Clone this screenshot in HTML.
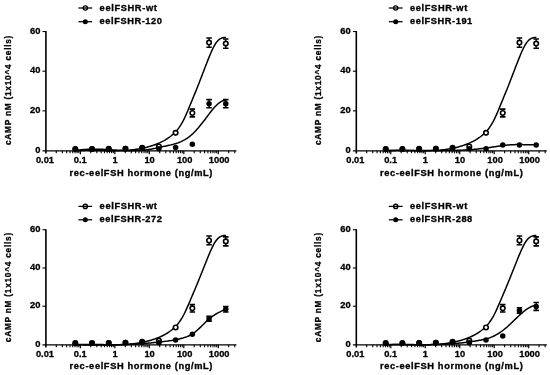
<!DOCTYPE html>
<html><head><meta charset="utf-8"><title>cAMP dose response</title>
<style>html,body{margin:0;padding:0;background:#fff}svg{display:block;filter:blur(0.3px)}text{font-family:"Liberation Sans",sans-serif;font-weight:bold;fill:#000;stroke:#000;stroke-width:.3px;stroke-linejoin:round}</style>
</head><body>
<svg width="550" height="375" viewBox="0 0 550 375">
<rect width="550" height="375" fill="#fff"/>
<line x1="45.90" y1="31.02" x2="45.90" y2="153.50" stroke="#000" stroke-width="1.6"/>
<line x1="42.50" y1="150.80" x2="236.40" y2="150.80" stroke="#000" stroke-width="1.2"/>
<line x1="42.50" y1="31.52" x2="45.90" y2="31.52" stroke="#000" stroke-width="1.1"/>
<text x="40.40" y="33.52" font-size="9.4" text-anchor="end">60</text>
<line x1="42.50" y1="71.18" x2="45.90" y2="71.18" stroke="#000" stroke-width="1.1"/>
<text x="40.40" y="73.18" font-size="9.4" text-anchor="end">40</text>
<line x1="42.50" y1="110.84" x2="45.90" y2="110.84" stroke="#000" stroke-width="1.1"/>
<text x="40.40" y="112.84" font-size="9.4" text-anchor="end">20</text>
<text x="40.40" y="152.50" font-size="9.4" text-anchor="end">0</text>
<text x="45.00" y="163.30" font-size="9.3" text-anchor="middle">0.01</text>
<line x1="80.38" y1="150.80" x2="80.38" y2="154.20" stroke="#000" stroke-width="1.2"/>
<text x="80.28" y="163.30" font-size="9.3" text-anchor="middle">0.1</text>
<line x1="114.86" y1="150.80" x2="114.86" y2="154.20" stroke="#000" stroke-width="1.2"/>
<text x="115.06" y="163.30" font-size="9.3" text-anchor="middle">1</text>
<line x1="149.34" y1="150.80" x2="149.34" y2="154.20" stroke="#000" stroke-width="1.2"/>
<text x="149.64" y="163.30" font-size="9.3" text-anchor="middle">10</text>
<line x1="183.82" y1="150.80" x2="183.82" y2="154.20" stroke="#000" stroke-width="1.2"/>
<text x="184.72" y="163.30" font-size="9.3" text-anchor="middle">100</text>
<line x1="218.30" y1="150.80" x2="218.30" y2="154.20" stroke="#000" stroke-width="1.2"/>
<text x="219.20" y="163.30" font-size="9.3" text-anchor="middle">1000</text>
<line x1="56.28" y1="150.80" x2="56.28" y2="153.20" stroke="#000" stroke-width="1.1"/>
<line x1="62.35" y1="150.80" x2="62.35" y2="153.20" stroke="#000" stroke-width="1.1"/>
<line x1="66.66" y1="150.80" x2="66.66" y2="153.20" stroke="#000" stroke-width="1.1"/>
<line x1="70.00" y1="150.80" x2="70.00" y2="153.20" stroke="#000" stroke-width="1.1"/>
<line x1="72.73" y1="150.80" x2="72.73" y2="153.20" stroke="#000" stroke-width="1.1"/>
<line x1="75.04" y1="150.80" x2="75.04" y2="153.20" stroke="#000" stroke-width="1.1"/>
<line x1="77.04" y1="150.80" x2="77.04" y2="153.20" stroke="#000" stroke-width="1.1"/>
<line x1="78.80" y1="150.80" x2="78.80" y2="153.20" stroke="#000" stroke-width="1.1"/>
<line x1="90.76" y1="150.80" x2="90.76" y2="153.20" stroke="#000" stroke-width="1.1"/>
<line x1="96.83" y1="150.80" x2="96.83" y2="153.20" stroke="#000" stroke-width="1.1"/>
<line x1="101.14" y1="150.80" x2="101.14" y2="153.20" stroke="#000" stroke-width="1.1"/>
<line x1="104.48" y1="150.80" x2="104.48" y2="153.20" stroke="#000" stroke-width="1.1"/>
<line x1="107.21" y1="150.80" x2="107.21" y2="153.20" stroke="#000" stroke-width="1.1"/>
<line x1="109.52" y1="150.80" x2="109.52" y2="153.20" stroke="#000" stroke-width="1.1"/>
<line x1="111.52" y1="150.80" x2="111.52" y2="153.20" stroke="#000" stroke-width="1.1"/>
<line x1="113.28" y1="150.80" x2="113.28" y2="153.20" stroke="#000" stroke-width="1.1"/>
<line x1="125.24" y1="150.80" x2="125.24" y2="153.20" stroke="#000" stroke-width="1.1"/>
<line x1="131.31" y1="150.80" x2="131.31" y2="153.20" stroke="#000" stroke-width="1.1"/>
<line x1="135.62" y1="150.80" x2="135.62" y2="153.20" stroke="#000" stroke-width="1.1"/>
<line x1="138.96" y1="150.80" x2="138.96" y2="153.20" stroke="#000" stroke-width="1.1"/>
<line x1="141.69" y1="150.80" x2="141.69" y2="153.20" stroke="#000" stroke-width="1.1"/>
<line x1="144.00" y1="150.80" x2="144.00" y2="153.20" stroke="#000" stroke-width="1.1"/>
<line x1="146.00" y1="150.80" x2="146.00" y2="153.20" stroke="#000" stroke-width="1.1"/>
<line x1="147.76" y1="150.80" x2="147.76" y2="153.20" stroke="#000" stroke-width="1.1"/>
<line x1="159.72" y1="150.80" x2="159.72" y2="153.20" stroke="#000" stroke-width="1.1"/>
<line x1="165.79" y1="150.80" x2="165.79" y2="153.20" stroke="#000" stroke-width="1.1"/>
<line x1="170.10" y1="150.80" x2="170.10" y2="153.20" stroke="#000" stroke-width="1.1"/>
<line x1="173.44" y1="150.80" x2="173.44" y2="153.20" stroke="#000" stroke-width="1.1"/>
<line x1="176.17" y1="150.80" x2="176.17" y2="153.20" stroke="#000" stroke-width="1.1"/>
<line x1="178.48" y1="150.80" x2="178.48" y2="153.20" stroke="#000" stroke-width="1.1"/>
<line x1="180.48" y1="150.80" x2="180.48" y2="153.20" stroke="#000" stroke-width="1.1"/>
<line x1="182.24" y1="150.80" x2="182.24" y2="153.20" stroke="#000" stroke-width="1.1"/>
<line x1="194.20" y1="150.80" x2="194.20" y2="153.20" stroke="#000" stroke-width="1.1"/>
<line x1="200.27" y1="150.80" x2="200.27" y2="153.20" stroke="#000" stroke-width="1.1"/>
<line x1="204.58" y1="150.80" x2="204.58" y2="153.20" stroke="#000" stroke-width="1.1"/>
<line x1="207.92" y1="150.80" x2="207.92" y2="153.20" stroke="#000" stroke-width="1.1"/>
<line x1="210.65" y1="150.80" x2="210.65" y2="153.20" stroke="#000" stroke-width="1.1"/>
<line x1="212.96" y1="150.80" x2="212.96" y2="153.20" stroke="#000" stroke-width="1.1"/>
<line x1="214.96" y1="150.80" x2="214.96" y2="153.20" stroke="#000" stroke-width="1.1"/>
<line x1="216.72" y1="150.80" x2="216.72" y2="153.20" stroke="#000" stroke-width="1.1"/>
<line x1="228.68" y1="150.80" x2="228.68" y2="153.20" stroke="#000" stroke-width="1.1"/>
<line x1="234.75" y1="150.80" x2="234.75" y2="153.20" stroke="#000" stroke-width="1.1"/>
<text transform="translate(69.60,176.00) scale(1.12,1)" font-size="8.3" textLength="127.50" lengthAdjust="spacing">rec-eelFSH hormone (ng/mL)</text>
<text transform="translate(10.70,90.30) rotate(-90)" font-size="8.3" text-anchor="middle" textLength="109.4" lengthAdjust="spacing">cAMP nM (1x10^4 cells)</text>
<circle cx="85.30" cy="8.00" r="2.1" fill="#fff" stroke="#000" stroke-width="1.4"/>
<line x1="78.40" y1="8.00" x2="92.20" y2="8.00" stroke="#000" stroke-width="1.25"/>
<text transform="translate(99.60,10.60) scale(1.12,1)" font-size="8.3" textLength="51.16" lengthAdjust="spacing">eelFSHR-wt</text>
<line x1="78.40" y1="21.70" x2="92.20" y2="21.70" stroke="#000" stroke-width="1.25"/>
<circle cx="85.30" cy="21.70" r="2.5" fill="#000"/>
<text transform="translate(99.60,24.30) scale(1.12,1)" font-size="8.3" textLength="55.62" lengthAdjust="spacing">eelFSHR-120</text>
<path d="M75.00 150.71 L76.00 150.65 L77.00 150.60 L78.00 150.55 L79.00 150.51 L80.00 150.48 L81.00 150.45 L82.00 150.43 L83.00 150.41 L84.00 150.39 L85.00 150.38 L86.00 150.37 L87.00 150.37 L88.00 150.37 L89.00 150.38 L90.00 150.38 L91.00 150.39 L92.00 150.40 L93.00 150.42 L94.00 150.43 L95.00 150.45 L96.00 150.47 L97.00 150.49 L98.00 150.51 L99.00 150.53 L100.00 150.55 L101.00 150.57 L102.00 150.60 L103.00 150.62 L104.00 150.64 L105.00 150.66 L106.00 150.67 L107.00 150.69 L108.00 150.70 L109.00 150.72 L110.00 150.73 L111.00 150.74 L112.00 150.74 L113.00 150.74 L114.00 150.74 L115.00 150.74 L116.00 150.73 L117.00 150.72 L118.00 150.70 L119.00 150.68 L120.00 150.65 L121.00 150.62 L122.00 150.58 L123.00 150.54 L124.00 150.49 L125.00 150.44 L126.00 150.38 L127.00 150.31 L128.00 150.24 L129.00 150.16 L130.00 150.07 L131.00 149.97 L132.00 149.87 L133.00 149.75 L134.00 149.63 L135.00 149.50 L136.00 149.36 L137.00 149.22 L138.00 149.06 L139.00 148.89 L140.00 148.71 L141.00 148.53 L142.00 148.33 L143.00 148.12 L144.00 147.90 L145.00 147.67 L146.00 147.43 L147.00 147.17 L148.00 146.91 L149.00 146.63 L150.00 146.34 L151.00 146.03 L152.00 145.71 L153.00 145.38 L154.00 145.04 L155.00 144.68 L156.00 144.31 L157.00 143.92 L158.00 143.52 L159.00 143.09 L160.00 142.65 L161.00 142.18 L162.00 141.69 L163.00 141.18 L164.00 140.64 L165.00 140.07 L166.00 139.47 L167.00 138.84 L168.00 138.18 L169.00 137.49 L170.00 136.76 L171.00 135.99 L172.00 135.18 L173.00 134.31 L174.00 133.39 L175.00 132.40 L176.00 131.33 L177.00 130.18 L178.00 128.93 L179.00 127.59 L180.00 126.14 L181.00 124.58 L182.00 122.89 L183.00 121.08 L184.00 119.13 L185.00 117.05 L186.00 114.85 L187.00 112.56 L188.00 110.20 L189.00 107.79 L190.00 105.34 L191.00 102.88 L192.00 100.43 L193.00 97.99 L194.00 95.57 L195.00 93.14 L196.00 90.69 L197.00 88.21 L198.00 85.70 L199.00 83.15 L200.00 80.57 L201.00 77.98 L202.00 75.38 L203.00 72.77 L204.00 70.16 L205.00 67.56 L206.00 64.97 L207.00 62.41 L208.00 59.87 L209.00 57.37 L210.00 54.93 L211.00 52.57 L212.00 50.32 L213.00 48.21 L214.00 46.26 L215.00 44.49 L216.00 42.94 L217.00 41.61 L218.00 40.51 L219.00 39.61 L220.00 38.91 L221.00 38.37 L222.00 37.99 L223.00 37.73 L224.00 37.56 L225.00 37.47 L226.00 37.42" fill="none" stroke="#000" stroke-width="1.5"/>
<path d="M75.00 150.70 L76.00 150.52 L77.00 150.36 L78.00 150.21 L79.00 150.07 L80.00 149.94 L81.00 149.82 L82.00 149.71 L83.00 149.62 L84.00 149.53 L85.00 149.46 L86.00 149.39 L87.00 149.33 L88.00 149.28 L89.00 149.24 L90.00 149.21 L91.00 149.18 L92.00 149.17 L93.00 149.15 L94.00 149.15 L95.00 149.15 L96.00 149.16 L97.00 149.18 L98.00 149.20 L99.00 149.22 L100.00 149.25 L101.00 149.28 L102.00 149.32 L103.00 149.36 L104.00 149.41 L105.00 149.46 L106.00 149.51 L107.00 149.56 L108.00 149.62 L109.00 149.67 L110.00 149.73 L111.00 149.79 L112.00 149.85 L113.00 149.91 L114.00 149.97 L115.00 150.03 L116.00 150.09 L117.00 150.15 L118.00 150.20 L119.00 150.26 L120.00 150.31 L121.00 150.36 L122.00 150.41 L123.00 150.46 L124.00 150.50 L125.00 150.54 L126.00 150.57 L127.00 150.60 L128.00 150.63 L129.00 150.65 L130.00 150.67 L131.00 150.67 L132.00 150.68 L133.00 150.68 L134.00 150.67 L135.00 150.65 L136.00 150.63 L137.00 150.59 L138.00 150.55 L139.00 150.51 L140.00 150.45 L141.00 150.38 L142.00 150.31 L143.00 150.22 L144.00 150.13 L145.00 150.03 L146.00 149.91 L147.00 149.78 L148.00 149.64 L149.00 149.49 L150.00 149.33 L151.00 149.16 L152.00 148.97 L153.00 148.78 L154.00 148.58 L155.00 148.37 L156.00 148.15 L157.00 147.93 L158.00 147.71 L159.00 147.49 L160.00 147.26 L161.00 147.04 L162.00 146.82 L163.00 146.60 L164.00 146.39 L165.00 146.18 L166.00 145.98 L167.00 145.77 L168.00 145.56 L169.00 145.34 L170.00 145.12 L171.00 144.89 L172.00 144.65 L173.00 144.39 L174.00 144.12 L175.00 143.83 L176.00 143.53 L177.00 143.20 L178.00 142.85 L179.00 142.47 L180.00 142.07 L181.00 141.64 L182.00 141.17 L183.00 140.68 L184.00 140.14 L185.00 139.57 L186.00 138.96 L187.00 138.31 L188.00 137.62 L189.00 136.88 L190.00 136.09 L191.00 135.25 L192.00 134.37 L193.00 133.44 L194.00 132.46 L195.00 131.45 L196.00 130.39 L197.00 129.30 L198.00 128.17 L199.00 127.01 L200.00 125.81 L201.00 124.59 L202.00 123.34 L203.00 122.06 L204.00 120.76 L205.00 119.44 L206.00 118.10 L207.00 116.76 L208.00 115.42 L209.00 114.09 L210.00 112.78 L211.00 111.49 L212.00 110.23 L213.00 109.01 L214.00 107.84 L215.00 106.73 L216.00 105.68 L217.00 104.70 L218.00 103.80 L219.00 102.99 L220.00 102.27 L221.00 101.66 L222.00 101.17 L223.00 100.80 L224.00 100.56 L225.00 100.46 L226.00 100.50" fill="none" stroke="#000" stroke-width="1.5"/>
<circle cx="75.30" cy="149.01" r="2.25" fill="#fff" stroke="#000" stroke-width="1.6"/>
<circle cx="92.02" cy="149.01" r="2.25" fill="#fff" stroke="#000" stroke-width="1.6"/>
<circle cx="108.74" cy="148.91" r="2.25" fill="#fff" stroke="#000" stroke-width="1.6"/>
<circle cx="125.46" cy="148.72" r="2.25" fill="#fff" stroke="#000" stroke-width="1.6"/>
<circle cx="142.18" cy="147.72" r="2.25" fill="#fff" stroke="#000" stroke-width="1.6"/>
<circle cx="158.90" cy="146.53" r="2.25" fill="#fff" stroke="#000" stroke-width="1.6"/>
<circle cx="175.62" cy="132.85" r="2.25" fill="#fff" stroke="#000" stroke-width="1.6"/>
<path d="M192.34 109.16V116.88" stroke="#000" stroke-width="1.3" fill="none"/>
<path d="M189.59 109.16H195.09M189.59 116.88H195.09" stroke="#000" stroke-width="1.6" fill="none"/>
<circle cx="192.34" cy="113.02" r="2.25" fill="#fff" stroke="#000" stroke-width="1.6"/>
<path d="M209.06 38.07V47.18" stroke="#000" stroke-width="1.3" fill="none"/>
<path d="M206.31 38.07H211.81M206.31 47.18H211.81" stroke="#000" stroke-width="1.6" fill="none"/>
<circle cx="209.06" cy="42.62" r="2.25" fill="#fff" stroke="#000" stroke-width="1.6"/>
<path d="M225.78 38.96V48.27" stroke="#000" stroke-width="1.3" fill="none"/>
<path d="M223.03 38.96H228.53M223.03 48.27H228.53" stroke="#000" stroke-width="1.6" fill="none"/>
<circle cx="225.78" cy="43.62" r="2.25" fill="#fff" stroke="#000" stroke-width="1.6"/>
<circle cx="75.30" cy="149.11" r="2.75" fill="#000"/>
<circle cx="92.02" cy="149.11" r="2.75" fill="#000"/>
<circle cx="108.74" cy="148.72" r="2.75" fill="#000"/>
<circle cx="125.46" cy="148.52" r="2.75" fill="#000"/>
<circle cx="142.18" cy="147.92" r="2.75" fill="#000"/>
<circle cx="158.90" cy="148.72" r="2.75" fill="#000"/>
<circle cx="175.62" cy="147.53" r="2.75" fill="#000"/>
<circle cx="192.34" cy="144.35" r="2.75" fill="#000"/>
<path d="M209.06 99.60V107.80" stroke="#000" stroke-width="1.3" fill="none"/>
<path d="M206.31 99.60H211.81M206.31 107.80H211.81" stroke="#000" stroke-width="1.6" fill="none"/>
<circle cx="209.06" cy="103.70" r="2.75" fill="#000"/>
<path d="M225.78 99.60V107.80" stroke="#000" stroke-width="1.3" fill="none"/>
<path d="M223.03 99.60H228.53M223.03 107.80H228.53" stroke="#000" stroke-width="1.6" fill="none"/>
<circle cx="225.78" cy="103.70" r="2.75" fill="#000"/>
<line x1="356.30" y1="31.02" x2="356.30" y2="153.50" stroke="#000" stroke-width="1.6"/>
<line x1="352.90" y1="150.80" x2="546.80" y2="150.80" stroke="#000" stroke-width="1.2"/>
<line x1="352.90" y1="31.52" x2="356.30" y2="31.52" stroke="#000" stroke-width="1.1"/>
<text x="350.80" y="33.52" font-size="9.4" text-anchor="end">60</text>
<line x1="352.90" y1="71.18" x2="356.30" y2="71.18" stroke="#000" stroke-width="1.1"/>
<text x="350.80" y="73.18" font-size="9.4" text-anchor="end">40</text>
<line x1="352.90" y1="110.84" x2="356.30" y2="110.84" stroke="#000" stroke-width="1.1"/>
<text x="350.80" y="112.84" font-size="9.4" text-anchor="end">20</text>
<text x="350.80" y="152.50" font-size="9.4" text-anchor="end">0</text>
<text x="355.40" y="163.30" font-size="9.3" text-anchor="middle">0.01</text>
<line x1="390.78" y1="150.80" x2="390.78" y2="154.20" stroke="#000" stroke-width="1.2"/>
<text x="390.68" y="163.30" font-size="9.3" text-anchor="middle">0.1</text>
<line x1="425.26" y1="150.80" x2="425.26" y2="154.20" stroke="#000" stroke-width="1.2"/>
<text x="425.46" y="163.30" font-size="9.3" text-anchor="middle">1</text>
<line x1="459.74" y1="150.80" x2="459.74" y2="154.20" stroke="#000" stroke-width="1.2"/>
<text x="460.04" y="163.30" font-size="9.3" text-anchor="middle">10</text>
<line x1="494.22" y1="150.80" x2="494.22" y2="154.20" stroke="#000" stroke-width="1.2"/>
<text x="495.12" y="163.30" font-size="9.3" text-anchor="middle">100</text>
<line x1="528.70" y1="150.80" x2="528.70" y2="154.20" stroke="#000" stroke-width="1.2"/>
<text x="529.60" y="163.30" font-size="9.3" text-anchor="middle">1000</text>
<line x1="366.68" y1="150.80" x2="366.68" y2="153.20" stroke="#000" stroke-width="1.1"/>
<line x1="372.75" y1="150.80" x2="372.75" y2="153.20" stroke="#000" stroke-width="1.1"/>
<line x1="377.06" y1="150.80" x2="377.06" y2="153.20" stroke="#000" stroke-width="1.1"/>
<line x1="380.40" y1="150.80" x2="380.40" y2="153.20" stroke="#000" stroke-width="1.1"/>
<line x1="383.13" y1="150.80" x2="383.13" y2="153.20" stroke="#000" stroke-width="1.1"/>
<line x1="385.44" y1="150.80" x2="385.44" y2="153.20" stroke="#000" stroke-width="1.1"/>
<line x1="387.44" y1="150.80" x2="387.44" y2="153.20" stroke="#000" stroke-width="1.1"/>
<line x1="389.20" y1="150.80" x2="389.20" y2="153.20" stroke="#000" stroke-width="1.1"/>
<line x1="401.16" y1="150.80" x2="401.16" y2="153.20" stroke="#000" stroke-width="1.1"/>
<line x1="407.23" y1="150.80" x2="407.23" y2="153.20" stroke="#000" stroke-width="1.1"/>
<line x1="411.54" y1="150.80" x2="411.54" y2="153.20" stroke="#000" stroke-width="1.1"/>
<line x1="414.88" y1="150.80" x2="414.88" y2="153.20" stroke="#000" stroke-width="1.1"/>
<line x1="417.61" y1="150.80" x2="417.61" y2="153.20" stroke="#000" stroke-width="1.1"/>
<line x1="419.92" y1="150.80" x2="419.92" y2="153.20" stroke="#000" stroke-width="1.1"/>
<line x1="421.92" y1="150.80" x2="421.92" y2="153.20" stroke="#000" stroke-width="1.1"/>
<line x1="423.68" y1="150.80" x2="423.68" y2="153.20" stroke="#000" stroke-width="1.1"/>
<line x1="435.64" y1="150.80" x2="435.64" y2="153.20" stroke="#000" stroke-width="1.1"/>
<line x1="441.71" y1="150.80" x2="441.71" y2="153.20" stroke="#000" stroke-width="1.1"/>
<line x1="446.02" y1="150.80" x2="446.02" y2="153.20" stroke="#000" stroke-width="1.1"/>
<line x1="449.36" y1="150.80" x2="449.36" y2="153.20" stroke="#000" stroke-width="1.1"/>
<line x1="452.09" y1="150.80" x2="452.09" y2="153.20" stroke="#000" stroke-width="1.1"/>
<line x1="454.40" y1="150.80" x2="454.40" y2="153.20" stroke="#000" stroke-width="1.1"/>
<line x1="456.40" y1="150.80" x2="456.40" y2="153.20" stroke="#000" stroke-width="1.1"/>
<line x1="458.16" y1="150.80" x2="458.16" y2="153.20" stroke="#000" stroke-width="1.1"/>
<line x1="470.12" y1="150.80" x2="470.12" y2="153.20" stroke="#000" stroke-width="1.1"/>
<line x1="476.19" y1="150.80" x2="476.19" y2="153.20" stroke="#000" stroke-width="1.1"/>
<line x1="480.50" y1="150.80" x2="480.50" y2="153.20" stroke="#000" stroke-width="1.1"/>
<line x1="483.84" y1="150.80" x2="483.84" y2="153.20" stroke="#000" stroke-width="1.1"/>
<line x1="486.57" y1="150.80" x2="486.57" y2="153.20" stroke="#000" stroke-width="1.1"/>
<line x1="488.88" y1="150.80" x2="488.88" y2="153.20" stroke="#000" stroke-width="1.1"/>
<line x1="490.88" y1="150.80" x2="490.88" y2="153.20" stroke="#000" stroke-width="1.1"/>
<line x1="492.64" y1="150.80" x2="492.64" y2="153.20" stroke="#000" stroke-width="1.1"/>
<line x1="504.60" y1="150.80" x2="504.60" y2="153.20" stroke="#000" stroke-width="1.1"/>
<line x1="510.67" y1="150.80" x2="510.67" y2="153.20" stroke="#000" stroke-width="1.1"/>
<line x1="514.98" y1="150.80" x2="514.98" y2="153.20" stroke="#000" stroke-width="1.1"/>
<line x1="518.32" y1="150.80" x2="518.32" y2="153.20" stroke="#000" stroke-width="1.1"/>
<line x1="521.05" y1="150.80" x2="521.05" y2="153.20" stroke="#000" stroke-width="1.1"/>
<line x1="523.36" y1="150.80" x2="523.36" y2="153.20" stroke="#000" stroke-width="1.1"/>
<line x1="525.36" y1="150.80" x2="525.36" y2="153.20" stroke="#000" stroke-width="1.1"/>
<line x1="527.12" y1="150.80" x2="527.12" y2="153.20" stroke="#000" stroke-width="1.1"/>
<line x1="539.08" y1="150.80" x2="539.08" y2="153.20" stroke="#000" stroke-width="1.1"/>
<line x1="545.15" y1="150.80" x2="545.15" y2="153.20" stroke="#000" stroke-width="1.1"/>
<text transform="translate(380.00,176.00) scale(1.12,1)" font-size="8.3" textLength="127.50" lengthAdjust="spacing">rec-eelFSH hormone (ng/mL)</text>
<text transform="translate(320.60,90.30) rotate(-90)" font-size="8.3" text-anchor="middle" textLength="109.4" lengthAdjust="spacing">cAMP nM (1x10^4 cells)</text>
<circle cx="395.70" cy="8.00" r="2.1" fill="#fff" stroke="#000" stroke-width="1.4"/>
<line x1="388.80" y1="8.00" x2="402.60" y2="8.00" stroke="#000" stroke-width="1.25"/>
<text transform="translate(410.00,10.60) scale(1.12,1)" font-size="8.3" textLength="51.16" lengthAdjust="spacing">eelFSHR-wt</text>
<line x1="388.80" y1="21.70" x2="402.60" y2="21.70" stroke="#000" stroke-width="1.25"/>
<circle cx="395.70" cy="21.70" r="2.5" fill="#000"/>
<text transform="translate(410.00,24.30) scale(1.12,1)" font-size="8.3" textLength="55.62" lengthAdjust="spacing">eelFSHR-191</text>
<path d="M385.40 150.71 L386.40 150.65 L387.40 150.60 L388.40 150.55 L389.40 150.51 L390.40 150.48 L391.40 150.45 L392.40 150.43 L393.40 150.41 L394.40 150.39 L395.40 150.38 L396.40 150.37 L397.40 150.37 L398.40 150.37 L399.40 150.38 L400.40 150.38 L401.40 150.39 L402.40 150.40 L403.40 150.42 L404.40 150.43 L405.40 150.45 L406.40 150.47 L407.40 150.49 L408.40 150.51 L409.40 150.53 L410.40 150.55 L411.40 150.57 L412.40 150.60 L413.40 150.62 L414.40 150.64 L415.40 150.66 L416.40 150.67 L417.40 150.69 L418.40 150.70 L419.40 150.72 L420.40 150.73 L421.40 150.74 L422.40 150.74 L423.40 150.74 L424.40 150.74 L425.40 150.74 L426.40 150.73 L427.40 150.72 L428.40 150.70 L429.40 150.68 L430.40 150.65 L431.40 150.62 L432.40 150.58 L433.40 150.54 L434.40 150.49 L435.40 150.44 L436.40 150.38 L437.40 150.31 L438.40 150.24 L439.40 150.16 L440.40 150.07 L441.40 149.97 L442.40 149.87 L443.40 149.75 L444.40 149.63 L445.40 149.50 L446.40 149.36 L447.40 149.22 L448.40 149.06 L449.40 148.89 L450.40 148.71 L451.40 148.53 L452.40 148.33 L453.40 148.12 L454.40 147.90 L455.40 147.67 L456.40 147.43 L457.40 147.17 L458.40 146.91 L459.40 146.63 L460.40 146.34 L461.40 146.03 L462.40 145.71 L463.40 145.38 L464.40 145.04 L465.40 144.68 L466.40 144.31 L467.40 143.92 L468.40 143.52 L469.40 143.09 L470.40 142.65 L471.40 142.18 L472.40 141.69 L473.40 141.18 L474.40 140.64 L475.40 140.07 L476.40 139.47 L477.40 138.84 L478.40 138.18 L479.40 137.49 L480.40 136.76 L481.40 135.99 L482.40 135.18 L483.40 134.31 L484.40 133.39 L485.40 132.40 L486.40 131.33 L487.40 130.18 L488.40 128.93 L489.40 127.59 L490.40 126.14 L491.40 124.58 L492.40 122.89 L493.40 121.08 L494.40 119.13 L495.40 117.05 L496.40 114.85 L497.40 112.56 L498.40 110.20 L499.40 107.79 L500.40 105.34 L501.40 102.88 L502.40 100.43 L503.40 97.99 L504.40 95.57 L505.40 93.14 L506.40 90.69 L507.40 88.21 L508.40 85.70 L509.40 83.15 L510.40 80.57 L511.40 77.98 L512.40 75.38 L513.40 72.77 L514.40 70.16 L515.40 67.56 L516.40 64.97 L517.40 62.41 L518.40 59.87 L519.40 57.37 L520.40 54.93 L521.40 52.57 L522.40 50.32 L523.40 48.21 L524.40 46.26 L525.40 44.49 L526.40 42.94 L527.40 41.61 L528.40 40.51 L529.40 39.61 L530.40 38.91 L531.40 38.37 L532.40 37.99 L533.40 37.73 L534.40 37.56 L535.40 37.47 L536.40 37.42" fill="none" stroke="#000" stroke-width="1.5"/>
<path d="M385.40 150.70 L386.40 150.66 L387.40 150.63 L388.40 150.60 L389.40 150.57 L390.40 150.55 L391.40 150.52 L392.40 150.50 L393.40 150.48 L394.40 150.47 L395.40 150.45 L396.40 150.44 L397.40 150.43 L398.40 150.42 L399.40 150.41 L400.40 150.41 L401.40 150.40 L402.40 150.40 L403.40 150.40 L404.40 150.40 L405.40 150.40 L406.40 150.40 L407.40 150.40 L408.40 150.41 L409.40 150.41 L410.40 150.42 L411.40 150.42 L412.40 150.43 L413.40 150.44 L414.40 150.45 L415.40 150.45 L416.40 150.46 L417.40 150.47 L418.40 150.48 L419.40 150.49 L420.40 150.50 L421.40 150.51 L422.40 150.52 L423.40 150.53 L424.40 150.55 L425.40 150.56 L426.40 150.56 L427.40 150.57 L428.40 150.58 L429.40 150.59 L430.40 150.60 L431.40 150.61 L432.40 150.61 L433.40 150.62 L434.40 150.62 L435.40 150.63 L436.40 150.63 L437.40 150.63 L438.40 150.64 L439.40 150.64 L440.40 150.63 L441.40 150.63 L442.40 150.63 L443.40 150.62 L444.40 150.61 L445.40 150.61 L446.40 150.60 L447.40 150.58 L448.40 150.57 L449.40 150.55 L450.40 150.54 L451.40 150.52 L452.40 150.49 L453.40 150.47 L454.40 150.44 L455.40 150.41 L456.40 150.38 L457.40 150.35 L458.40 150.31 L459.40 150.27 L460.40 150.23 L461.40 150.19 L462.40 150.14 L463.40 150.09 L464.40 150.04 L465.40 149.98 L466.40 149.92 L467.40 149.86 L468.40 149.80 L469.40 149.73 L470.40 149.66 L471.40 149.58 L472.40 149.50 L473.40 149.42 L474.40 149.33 L475.40 149.24 L476.40 149.15 L477.40 149.05 L478.40 148.95 L479.40 148.84 L480.40 148.73 L481.40 148.62 L482.40 148.50 L483.40 148.38 L484.40 148.25 L485.40 148.12 L486.40 147.99 L487.40 147.85 L488.40 147.70 L489.40 147.56 L490.40 147.41 L491.40 147.25 L492.40 147.10 L493.40 146.95 L494.40 146.79 L495.40 146.64 L496.40 146.48 L497.40 146.33 L498.40 146.19 L499.40 146.04 L500.40 145.90 L501.40 145.76 L502.40 145.63 L503.40 145.50 L504.40 145.38 L505.40 145.27 L506.40 145.16 L507.40 145.06 L508.40 144.97 L509.40 144.89 L510.40 144.82 L511.40 144.76 L512.40 144.71 L513.40 144.67 L514.40 144.64 L515.40 144.61 L516.40 144.60 L517.40 144.59 L518.40 144.59 L519.40 144.59 L520.40 144.59 L521.40 144.61 L522.40 144.62 L523.40 144.64 L524.40 144.66 L525.40 144.68 L526.40 144.70 L527.40 144.73 L528.40 144.75 L529.40 144.77 L530.40 144.79 L531.40 144.81 L532.40 144.83 L533.40 144.84 L534.40 144.85 L535.40 144.85 L536.40 144.85" fill="none" stroke="#000" stroke-width="1.5"/>
<circle cx="385.70" cy="149.01" r="2.25" fill="#fff" stroke="#000" stroke-width="1.6"/>
<circle cx="402.42" cy="149.01" r="2.25" fill="#fff" stroke="#000" stroke-width="1.6"/>
<circle cx="419.14" cy="148.91" r="2.25" fill="#fff" stroke="#000" stroke-width="1.6"/>
<circle cx="435.86" cy="148.72" r="2.25" fill="#fff" stroke="#000" stroke-width="1.6"/>
<circle cx="452.58" cy="147.72" r="2.25" fill="#fff" stroke="#000" stroke-width="1.6"/>
<circle cx="469.30" cy="146.53" r="2.25" fill="#fff" stroke="#000" stroke-width="1.6"/>
<circle cx="486.02" cy="132.85" r="2.25" fill="#fff" stroke="#000" stroke-width="1.6"/>
<path d="M502.74 109.16V116.88" stroke="#000" stroke-width="1.3" fill="none"/>
<path d="M499.99 109.16H505.49M499.99 116.88H505.49" stroke="#000" stroke-width="1.6" fill="none"/>
<circle cx="502.74" cy="113.02" r="2.25" fill="#fff" stroke="#000" stroke-width="1.6"/>
<path d="M519.46 38.07V47.18" stroke="#000" stroke-width="1.3" fill="none"/>
<path d="M516.71 38.07H522.21M516.71 47.18H522.21" stroke="#000" stroke-width="1.6" fill="none"/>
<circle cx="519.46" cy="42.62" r="2.25" fill="#fff" stroke="#000" stroke-width="1.6"/>
<path d="M536.18 38.96V48.27" stroke="#000" stroke-width="1.3" fill="none"/>
<path d="M533.43 38.96H538.93M533.43 48.27H538.93" stroke="#000" stroke-width="1.6" fill="none"/>
<circle cx="536.18" cy="43.62" r="2.25" fill="#fff" stroke="#000" stroke-width="1.6"/>
<circle cx="385.70" cy="149.11" r="2.75" fill="#000"/>
<circle cx="402.42" cy="149.11" r="2.75" fill="#000"/>
<circle cx="419.14" cy="148.72" r="2.75" fill="#000"/>
<circle cx="435.86" cy="148.52" r="2.75" fill="#000"/>
<circle cx="452.58" cy="147.92" r="2.75" fill="#000"/>
<circle cx="469.30" cy="148.72" r="2.75" fill="#000"/>
<circle cx="486.02" cy="148.72" r="2.75" fill="#000"/>
<circle cx="502.74" cy="144.95" r="2.75" fill="#000"/>
<circle cx="519.46" cy="144.95" r="2.75" fill="#000"/>
<circle cx="536.18" cy="144.95" r="2.75" fill="#000"/>
<line x1="45.90" y1="229.22" x2="45.90" y2="347.50" stroke="#000" stroke-width="1.6"/>
<line x1="42.50" y1="344.80" x2="236.40" y2="344.80" stroke="#000" stroke-width="1.2"/>
<line x1="42.50" y1="229.72" x2="45.90" y2="229.72" stroke="#000" stroke-width="1.1"/>
<text x="40.40" y="231.72" font-size="9.4" text-anchor="end">60</text>
<line x1="42.50" y1="267.98" x2="45.90" y2="267.98" stroke="#000" stroke-width="1.1"/>
<text x="40.40" y="269.98" font-size="9.4" text-anchor="end">40</text>
<line x1="42.50" y1="306.24" x2="45.90" y2="306.24" stroke="#000" stroke-width="1.1"/>
<text x="40.40" y="308.24" font-size="9.4" text-anchor="end">20</text>
<text x="40.40" y="346.50" font-size="9.4" text-anchor="end">0</text>
<text x="45.00" y="357.30" font-size="9.3" text-anchor="middle">0.01</text>
<line x1="80.38" y1="344.80" x2="80.38" y2="348.20" stroke="#000" stroke-width="1.2"/>
<text x="80.28" y="357.30" font-size="9.3" text-anchor="middle">0.1</text>
<line x1="114.86" y1="344.80" x2="114.86" y2="348.20" stroke="#000" stroke-width="1.2"/>
<text x="115.06" y="357.30" font-size="9.3" text-anchor="middle">1</text>
<line x1="149.34" y1="344.80" x2="149.34" y2="348.20" stroke="#000" stroke-width="1.2"/>
<text x="149.64" y="357.30" font-size="9.3" text-anchor="middle">10</text>
<line x1="183.82" y1="344.80" x2="183.82" y2="348.20" stroke="#000" stroke-width="1.2"/>
<text x="184.72" y="357.30" font-size="9.3" text-anchor="middle">100</text>
<line x1="218.30" y1="344.80" x2="218.30" y2="348.20" stroke="#000" stroke-width="1.2"/>
<text x="219.20" y="357.30" font-size="9.3" text-anchor="middle">1000</text>
<line x1="56.28" y1="344.80" x2="56.28" y2="347.20" stroke="#000" stroke-width="1.1"/>
<line x1="62.35" y1="344.80" x2="62.35" y2="347.20" stroke="#000" stroke-width="1.1"/>
<line x1="66.66" y1="344.80" x2="66.66" y2="347.20" stroke="#000" stroke-width="1.1"/>
<line x1="70.00" y1="344.80" x2="70.00" y2="347.20" stroke="#000" stroke-width="1.1"/>
<line x1="72.73" y1="344.80" x2="72.73" y2="347.20" stroke="#000" stroke-width="1.1"/>
<line x1="75.04" y1="344.80" x2="75.04" y2="347.20" stroke="#000" stroke-width="1.1"/>
<line x1="77.04" y1="344.80" x2="77.04" y2="347.20" stroke="#000" stroke-width="1.1"/>
<line x1="78.80" y1="344.80" x2="78.80" y2="347.20" stroke="#000" stroke-width="1.1"/>
<line x1="90.76" y1="344.80" x2="90.76" y2="347.20" stroke="#000" stroke-width="1.1"/>
<line x1="96.83" y1="344.80" x2="96.83" y2="347.20" stroke="#000" stroke-width="1.1"/>
<line x1="101.14" y1="344.80" x2="101.14" y2="347.20" stroke="#000" stroke-width="1.1"/>
<line x1="104.48" y1="344.80" x2="104.48" y2="347.20" stroke="#000" stroke-width="1.1"/>
<line x1="107.21" y1="344.80" x2="107.21" y2="347.20" stroke="#000" stroke-width="1.1"/>
<line x1="109.52" y1="344.80" x2="109.52" y2="347.20" stroke="#000" stroke-width="1.1"/>
<line x1="111.52" y1="344.80" x2="111.52" y2="347.20" stroke="#000" stroke-width="1.1"/>
<line x1="113.28" y1="344.80" x2="113.28" y2="347.20" stroke="#000" stroke-width="1.1"/>
<line x1="125.24" y1="344.80" x2="125.24" y2="347.20" stroke="#000" stroke-width="1.1"/>
<line x1="131.31" y1="344.80" x2="131.31" y2="347.20" stroke="#000" stroke-width="1.1"/>
<line x1="135.62" y1="344.80" x2="135.62" y2="347.20" stroke="#000" stroke-width="1.1"/>
<line x1="138.96" y1="344.80" x2="138.96" y2="347.20" stroke="#000" stroke-width="1.1"/>
<line x1="141.69" y1="344.80" x2="141.69" y2="347.20" stroke="#000" stroke-width="1.1"/>
<line x1="144.00" y1="344.80" x2="144.00" y2="347.20" stroke="#000" stroke-width="1.1"/>
<line x1="146.00" y1="344.80" x2="146.00" y2="347.20" stroke="#000" stroke-width="1.1"/>
<line x1="147.76" y1="344.80" x2="147.76" y2="347.20" stroke="#000" stroke-width="1.1"/>
<line x1="159.72" y1="344.80" x2="159.72" y2="347.20" stroke="#000" stroke-width="1.1"/>
<line x1="165.79" y1="344.80" x2="165.79" y2="347.20" stroke="#000" stroke-width="1.1"/>
<line x1="170.10" y1="344.80" x2="170.10" y2="347.20" stroke="#000" stroke-width="1.1"/>
<line x1="173.44" y1="344.80" x2="173.44" y2="347.20" stroke="#000" stroke-width="1.1"/>
<line x1="176.17" y1="344.80" x2="176.17" y2="347.20" stroke="#000" stroke-width="1.1"/>
<line x1="178.48" y1="344.80" x2="178.48" y2="347.20" stroke="#000" stroke-width="1.1"/>
<line x1="180.48" y1="344.80" x2="180.48" y2="347.20" stroke="#000" stroke-width="1.1"/>
<line x1="182.24" y1="344.80" x2="182.24" y2="347.20" stroke="#000" stroke-width="1.1"/>
<line x1="194.20" y1="344.80" x2="194.20" y2="347.20" stroke="#000" stroke-width="1.1"/>
<line x1="200.27" y1="344.80" x2="200.27" y2="347.20" stroke="#000" stroke-width="1.1"/>
<line x1="204.58" y1="344.80" x2="204.58" y2="347.20" stroke="#000" stroke-width="1.1"/>
<line x1="207.92" y1="344.80" x2="207.92" y2="347.20" stroke="#000" stroke-width="1.1"/>
<line x1="210.65" y1="344.80" x2="210.65" y2="347.20" stroke="#000" stroke-width="1.1"/>
<line x1="212.96" y1="344.80" x2="212.96" y2="347.20" stroke="#000" stroke-width="1.1"/>
<line x1="214.96" y1="344.80" x2="214.96" y2="347.20" stroke="#000" stroke-width="1.1"/>
<line x1="216.72" y1="344.80" x2="216.72" y2="347.20" stroke="#000" stroke-width="1.1"/>
<line x1="228.68" y1="344.80" x2="228.68" y2="347.20" stroke="#000" stroke-width="1.1"/>
<line x1="234.75" y1="344.80" x2="234.75" y2="347.20" stroke="#000" stroke-width="1.1"/>
<text transform="translate(69.60,369.30) scale(1.12,1)" font-size="8.3" textLength="127.50" lengthAdjust="spacing">rec-eelFSH hormone (ng/mL)</text>
<text transform="translate(10.70,287.50) rotate(-90)" font-size="8.3" text-anchor="middle" textLength="109.4" lengthAdjust="spacing">cAMP nM (1x10^4 cells)</text>
<circle cx="85.30" cy="206.40" r="2.1" fill="#fff" stroke="#000" stroke-width="1.4"/>
<line x1="78.40" y1="206.40" x2="92.20" y2="206.40" stroke="#000" stroke-width="1.25"/>
<text transform="translate(99.60,209.00) scale(1.12,1)" font-size="8.3" textLength="51.16" lengthAdjust="spacing">eelFSHR-wt</text>
<line x1="78.40" y1="219.80" x2="92.20" y2="219.80" stroke="#000" stroke-width="1.25"/>
<circle cx="85.30" cy="219.80" r="2.5" fill="#000"/>
<text transform="translate(99.60,222.40) scale(1.12,1)" font-size="8.3" textLength="55.62" lengthAdjust="spacing">eelFSHR-272</text>
<path d="M75.00 344.70 L76.00 344.64 L77.00 344.59 L78.00 344.55 L79.00 344.51 L80.00 344.48 L81.00 344.45 L82.00 344.43 L83.00 344.41 L84.00 344.40 L85.00 344.39 L86.00 344.38 L87.00 344.38 L88.00 344.38 L89.00 344.38 L90.00 344.39 L91.00 344.40 L92.00 344.41 L93.00 344.42 L94.00 344.44 L95.00 344.45 L96.00 344.47 L97.00 344.49 L98.00 344.51 L99.00 344.53 L100.00 344.55 L101.00 344.57 L102.00 344.59 L103.00 344.61 L104.00 344.63 L105.00 344.65 L106.00 344.67 L107.00 344.68 L108.00 344.70 L109.00 344.71 L110.00 344.72 L111.00 344.73 L112.00 344.73 L113.00 344.73 L114.00 344.73 L115.00 344.73 L116.00 344.72 L117.00 344.71 L118.00 344.69 L119.00 344.67 L120.00 344.65 L121.00 344.62 L122.00 344.58 L123.00 344.54 L124.00 344.49 L125.00 344.44 L126.00 344.38 L127.00 344.32 L128.00 344.25 L129.00 344.17 L130.00 344.08 L131.00 343.99 L132.00 343.89 L133.00 343.78 L134.00 343.66 L135.00 343.54 L136.00 343.40 L137.00 343.26 L138.00 343.11 L139.00 342.95 L140.00 342.78 L141.00 342.60 L142.00 342.41 L143.00 342.20 L144.00 341.99 L145.00 341.77 L146.00 341.54 L147.00 341.29 L148.00 341.03 L149.00 340.76 L150.00 340.48 L151.00 340.19 L152.00 339.88 L153.00 339.56 L154.00 339.23 L155.00 338.89 L156.00 338.53 L157.00 338.15 L158.00 337.76 L159.00 337.35 L160.00 336.92 L161.00 336.47 L162.00 336.00 L163.00 335.51 L164.00 334.99 L165.00 334.44 L166.00 333.86 L167.00 333.26 L168.00 332.62 L169.00 331.95 L170.00 331.24 L171.00 330.50 L172.00 329.72 L173.00 328.89 L174.00 327.99 L175.00 327.04 L176.00 326.00 L177.00 324.89 L178.00 323.69 L179.00 322.40 L180.00 321.00 L181.00 319.49 L182.00 317.87 L183.00 316.12 L184.00 314.24 L185.00 312.23 L186.00 310.11 L187.00 307.90 L188.00 305.63 L189.00 303.30 L190.00 300.94 L191.00 298.56 L192.00 296.20 L193.00 293.85 L194.00 291.51 L195.00 289.17 L196.00 286.81 L197.00 284.41 L198.00 281.98 L199.00 279.53 L200.00 277.04 L201.00 274.54 L202.00 272.03 L203.00 269.51 L204.00 267.00 L205.00 264.49 L206.00 261.99 L207.00 259.52 L208.00 257.07 L209.00 254.66 L210.00 252.30 L211.00 250.02 L212.00 247.86 L213.00 245.82 L214.00 243.94 L215.00 242.23 L216.00 240.73 L217.00 239.46 L218.00 238.39 L219.00 237.53 L220.00 236.85 L221.00 236.33 L222.00 235.96 L223.00 235.71 L224.00 235.55 L225.00 235.46 L226.00 235.41" fill="none" stroke="#000" stroke-width="1.5"/>
<path d="M75.00 344.70 L76.00 344.72 L77.00 344.74 L78.00 344.76 L79.00 344.79 L80.00 344.81 L81.00 344.83 L82.00 344.85 L83.00 344.86 L84.00 344.88 L85.00 344.90 L86.00 344.91 L87.00 344.93 L88.00 344.94 L89.00 344.95 L90.00 344.96 L91.00 344.97 L92.00 344.98 L93.00 344.99 L94.00 345.00 L95.00 345.00 L96.00 345.01 L97.00 345.01 L98.00 345.02 L99.00 345.02 L100.00 345.02 L101.00 345.02 L102.00 345.01 L103.00 345.01 L104.00 345.00 L105.00 345.00 L106.00 344.99 L107.00 344.98 L108.00 344.97 L109.00 344.96 L110.00 344.95 L111.00 344.93 L112.00 344.91 L113.00 344.90 L114.00 344.88 L115.00 344.86 L116.00 344.83 L117.00 344.81 L118.00 344.78 L119.00 344.76 L120.00 344.73 L121.00 344.70 L122.00 344.66 L123.00 344.63 L124.00 344.59 L125.00 344.56 L126.00 344.52 L127.00 344.48 L128.00 344.43 L129.00 344.39 L130.00 344.34 L131.00 344.29 L132.00 344.24 L133.00 344.19 L134.00 344.14 L135.00 344.08 L136.00 344.02 L137.00 343.96 L138.00 343.90 L139.00 343.84 L140.00 343.77 L141.00 343.70 L142.00 343.63 L143.00 343.56 L144.00 343.48 L145.00 343.41 L146.00 343.33 L147.00 343.25 L148.00 343.16 L149.00 343.08 L150.00 342.99 L151.00 342.90 L152.00 342.81 L153.00 342.71 L154.00 342.61 L155.00 342.51 L156.00 342.41 L157.00 342.31 L158.00 342.20 L159.00 342.09 L160.00 341.98 L161.00 341.86 L162.00 341.74 L163.00 341.62 L164.00 341.50 L165.00 341.38 L166.00 341.25 L167.00 341.12 L168.00 340.98 L169.00 340.84 L170.00 340.70 L171.00 340.55 L172.00 340.39 L173.00 340.22 L174.00 340.04 L175.00 339.86 L176.00 339.66 L177.00 339.46 L178.00 339.24 L179.00 339.01 L180.00 338.77 L181.00 338.51 L182.00 338.24 L183.00 337.96 L184.00 337.65 L185.00 337.34 L186.00 337.00 L187.00 336.63 L188.00 336.23 L189.00 335.79 L190.00 335.31 L191.00 334.78 L192.00 334.19 L193.00 333.55 L194.00 332.84 L195.00 332.08 L196.00 331.26 L197.00 330.41 L198.00 329.52 L199.00 328.60 L200.00 327.65 L201.00 326.68 L202.00 325.70 L203.00 324.72 L204.00 323.73 L205.00 322.75 L206.00 321.79 L207.00 320.85 L208.00 319.93 L209.00 319.05 L210.00 318.21 L211.00 317.42 L212.00 316.66 L213.00 315.94 L214.00 315.26 L215.00 314.61 L216.00 314.00 L217.00 313.41 L218.00 312.85 L219.00 312.32 L220.00 311.82 L221.00 311.34 L222.00 310.88 L223.00 310.43 L224.00 310.01 L225.00 309.60" fill="none" stroke="#000" stroke-width="1.5"/>
<circle cx="75.30" cy="343.07" r="2.25" fill="#fff" stroke="#000" stroke-width="1.6"/>
<circle cx="92.02" cy="343.07" r="2.25" fill="#fff" stroke="#000" stroke-width="1.6"/>
<circle cx="108.74" cy="342.97" r="2.25" fill="#fff" stroke="#000" stroke-width="1.6"/>
<circle cx="125.46" cy="342.78" r="2.25" fill="#fff" stroke="#000" stroke-width="1.6"/>
<circle cx="142.18" cy="341.82" r="2.25" fill="#fff" stroke="#000" stroke-width="1.6"/>
<circle cx="158.90" cy="340.67" r="2.25" fill="#fff" stroke="#000" stroke-width="1.6"/>
<circle cx="175.62" cy="327.47" r="2.25" fill="#fff" stroke="#000" stroke-width="1.6"/>
<path d="M192.34 304.64V312.05" stroke="#000" stroke-width="1.3" fill="none"/>
<path d="M189.59 304.64H195.09M189.59 312.05H195.09" stroke="#000" stroke-width="1.6" fill="none"/>
<circle cx="192.34" cy="308.34" r="2.25" fill="#fff" stroke="#000" stroke-width="1.6"/>
<path d="M209.06 236.06V244.81" stroke="#000" stroke-width="1.3" fill="none"/>
<path d="M206.31 236.06H211.81M206.31 244.81H211.81" stroke="#000" stroke-width="1.6" fill="none"/>
<circle cx="209.06" cy="240.43" r="2.25" fill="#fff" stroke="#000" stroke-width="1.6"/>
<path d="M225.78 236.92V245.86" stroke="#000" stroke-width="1.3" fill="none"/>
<path d="M223.03 236.92H228.53M223.03 245.86H228.53" stroke="#000" stroke-width="1.6" fill="none"/>
<circle cx="225.78" cy="241.39" r="2.25" fill="#fff" stroke="#000" stroke-width="1.6"/>
<circle cx="75.30" cy="343.16" r="2.75" fill="#000"/>
<circle cx="92.02" cy="343.16" r="2.75" fill="#000"/>
<circle cx="108.74" cy="342.78" r="2.75" fill="#000"/>
<circle cx="125.46" cy="342.59" r="2.75" fill="#000"/>
<circle cx="142.18" cy="342.01" r="2.75" fill="#000"/>
<circle cx="158.90" cy="342.68" r="2.75" fill="#000"/>
<circle cx="175.62" cy="340.10" r="2.75" fill="#000"/>
<circle cx="192.34" cy="334.17" r="2.75" fill="#000"/>
<path d="M209.06 316.21V321.14" stroke="#000" stroke-width="1.3" fill="none"/>
<path d="M206.31 316.21H211.81M206.31 321.14H211.81" stroke="#000" stroke-width="1.6" fill="none"/>
<circle cx="209.06" cy="318.67" r="2.75" fill="#000"/>
<path d="M225.78 306.55V312.05" stroke="#000" stroke-width="1.3" fill="none"/>
<path d="M223.03 306.55H228.53M223.03 312.05H228.53" stroke="#000" stroke-width="1.6" fill="none"/>
<circle cx="225.78" cy="309.30" r="2.75" fill="#000"/>
<line x1="356.30" y1="229.22" x2="356.30" y2="347.50" stroke="#000" stroke-width="1.6"/>
<line x1="352.90" y1="344.80" x2="546.80" y2="344.80" stroke="#000" stroke-width="1.2"/>
<line x1="352.90" y1="229.72" x2="356.30" y2="229.72" stroke="#000" stroke-width="1.1"/>
<text x="350.80" y="231.72" font-size="9.4" text-anchor="end">60</text>
<line x1="352.90" y1="267.98" x2="356.30" y2="267.98" stroke="#000" stroke-width="1.1"/>
<text x="350.80" y="269.98" font-size="9.4" text-anchor="end">40</text>
<line x1="352.90" y1="306.24" x2="356.30" y2="306.24" stroke="#000" stroke-width="1.1"/>
<text x="350.80" y="308.24" font-size="9.4" text-anchor="end">20</text>
<text x="350.80" y="346.50" font-size="9.4" text-anchor="end">0</text>
<text x="355.40" y="357.30" font-size="9.3" text-anchor="middle">0.01</text>
<line x1="390.78" y1="344.80" x2="390.78" y2="348.20" stroke="#000" stroke-width="1.2"/>
<text x="390.68" y="357.30" font-size="9.3" text-anchor="middle">0.1</text>
<line x1="425.26" y1="344.80" x2="425.26" y2="348.20" stroke="#000" stroke-width="1.2"/>
<text x="425.46" y="357.30" font-size="9.3" text-anchor="middle">1</text>
<line x1="459.74" y1="344.80" x2="459.74" y2="348.20" stroke="#000" stroke-width="1.2"/>
<text x="460.04" y="357.30" font-size="9.3" text-anchor="middle">10</text>
<line x1="494.22" y1="344.80" x2="494.22" y2="348.20" stroke="#000" stroke-width="1.2"/>
<text x="495.12" y="357.30" font-size="9.3" text-anchor="middle">100</text>
<line x1="528.70" y1="344.80" x2="528.70" y2="348.20" stroke="#000" stroke-width="1.2"/>
<text x="529.60" y="357.30" font-size="9.3" text-anchor="middle">1000</text>
<line x1="366.68" y1="344.80" x2="366.68" y2="347.20" stroke="#000" stroke-width="1.1"/>
<line x1="372.75" y1="344.80" x2="372.75" y2="347.20" stroke="#000" stroke-width="1.1"/>
<line x1="377.06" y1="344.80" x2="377.06" y2="347.20" stroke="#000" stroke-width="1.1"/>
<line x1="380.40" y1="344.80" x2="380.40" y2="347.20" stroke="#000" stroke-width="1.1"/>
<line x1="383.13" y1="344.80" x2="383.13" y2="347.20" stroke="#000" stroke-width="1.1"/>
<line x1="385.44" y1="344.80" x2="385.44" y2="347.20" stroke="#000" stroke-width="1.1"/>
<line x1="387.44" y1="344.80" x2="387.44" y2="347.20" stroke="#000" stroke-width="1.1"/>
<line x1="389.20" y1="344.80" x2="389.20" y2="347.20" stroke="#000" stroke-width="1.1"/>
<line x1="401.16" y1="344.80" x2="401.16" y2="347.20" stroke="#000" stroke-width="1.1"/>
<line x1="407.23" y1="344.80" x2="407.23" y2="347.20" stroke="#000" stroke-width="1.1"/>
<line x1="411.54" y1="344.80" x2="411.54" y2="347.20" stroke="#000" stroke-width="1.1"/>
<line x1="414.88" y1="344.80" x2="414.88" y2="347.20" stroke="#000" stroke-width="1.1"/>
<line x1="417.61" y1="344.80" x2="417.61" y2="347.20" stroke="#000" stroke-width="1.1"/>
<line x1="419.92" y1="344.80" x2="419.92" y2="347.20" stroke="#000" stroke-width="1.1"/>
<line x1="421.92" y1="344.80" x2="421.92" y2="347.20" stroke="#000" stroke-width="1.1"/>
<line x1="423.68" y1="344.80" x2="423.68" y2="347.20" stroke="#000" stroke-width="1.1"/>
<line x1="435.64" y1="344.80" x2="435.64" y2="347.20" stroke="#000" stroke-width="1.1"/>
<line x1="441.71" y1="344.80" x2="441.71" y2="347.20" stroke="#000" stroke-width="1.1"/>
<line x1="446.02" y1="344.80" x2="446.02" y2="347.20" stroke="#000" stroke-width="1.1"/>
<line x1="449.36" y1="344.80" x2="449.36" y2="347.20" stroke="#000" stroke-width="1.1"/>
<line x1="452.09" y1="344.80" x2="452.09" y2="347.20" stroke="#000" stroke-width="1.1"/>
<line x1="454.40" y1="344.80" x2="454.40" y2="347.20" stroke="#000" stroke-width="1.1"/>
<line x1="456.40" y1="344.80" x2="456.40" y2="347.20" stroke="#000" stroke-width="1.1"/>
<line x1="458.16" y1="344.80" x2="458.16" y2="347.20" stroke="#000" stroke-width="1.1"/>
<line x1="470.12" y1="344.80" x2="470.12" y2="347.20" stroke="#000" stroke-width="1.1"/>
<line x1="476.19" y1="344.80" x2="476.19" y2="347.20" stroke="#000" stroke-width="1.1"/>
<line x1="480.50" y1="344.80" x2="480.50" y2="347.20" stroke="#000" stroke-width="1.1"/>
<line x1="483.84" y1="344.80" x2="483.84" y2="347.20" stroke="#000" stroke-width="1.1"/>
<line x1="486.57" y1="344.80" x2="486.57" y2="347.20" stroke="#000" stroke-width="1.1"/>
<line x1="488.88" y1="344.80" x2="488.88" y2="347.20" stroke="#000" stroke-width="1.1"/>
<line x1="490.88" y1="344.80" x2="490.88" y2="347.20" stroke="#000" stroke-width="1.1"/>
<line x1="492.64" y1="344.80" x2="492.64" y2="347.20" stroke="#000" stroke-width="1.1"/>
<line x1="504.60" y1="344.80" x2="504.60" y2="347.20" stroke="#000" stroke-width="1.1"/>
<line x1="510.67" y1="344.80" x2="510.67" y2="347.20" stroke="#000" stroke-width="1.1"/>
<line x1="514.98" y1="344.80" x2="514.98" y2="347.20" stroke="#000" stroke-width="1.1"/>
<line x1="518.32" y1="344.80" x2="518.32" y2="347.20" stroke="#000" stroke-width="1.1"/>
<line x1="521.05" y1="344.80" x2="521.05" y2="347.20" stroke="#000" stroke-width="1.1"/>
<line x1="523.36" y1="344.80" x2="523.36" y2="347.20" stroke="#000" stroke-width="1.1"/>
<line x1="525.36" y1="344.80" x2="525.36" y2="347.20" stroke="#000" stroke-width="1.1"/>
<line x1="527.12" y1="344.80" x2="527.12" y2="347.20" stroke="#000" stroke-width="1.1"/>
<line x1="539.08" y1="344.80" x2="539.08" y2="347.20" stroke="#000" stroke-width="1.1"/>
<line x1="545.15" y1="344.80" x2="545.15" y2="347.20" stroke="#000" stroke-width="1.1"/>
<text transform="translate(380.00,369.30) scale(1.12,1)" font-size="8.3" textLength="127.50" lengthAdjust="spacing">rec-eelFSH hormone (ng/mL)</text>
<text transform="translate(320.60,287.50) rotate(-90)" font-size="8.3" text-anchor="middle" textLength="109.4" lengthAdjust="spacing">cAMP nM (1x10^4 cells)</text>
<circle cx="395.70" cy="206.40" r="2.1" fill="#fff" stroke="#000" stroke-width="1.4"/>
<line x1="388.80" y1="206.40" x2="402.60" y2="206.40" stroke="#000" stroke-width="1.25"/>
<text transform="translate(410.00,209.00) scale(1.12,1)" font-size="8.3" textLength="51.16" lengthAdjust="spacing">eelFSHR-wt</text>
<line x1="388.80" y1="219.80" x2="402.60" y2="219.80" stroke="#000" stroke-width="1.25"/>
<circle cx="395.70" cy="219.80" r="2.5" fill="#000"/>
<text transform="translate(410.00,222.40) scale(1.12,1)" font-size="8.3" textLength="55.62" lengthAdjust="spacing">eelFSHR-288</text>
<path d="M385.40 344.70 L386.40 344.64 L387.40 344.59 L388.40 344.55 L389.40 344.51 L390.40 344.48 L391.40 344.45 L392.40 344.43 L393.40 344.41 L394.40 344.40 L395.40 344.39 L396.40 344.38 L397.40 344.38 L398.40 344.38 L399.40 344.38 L400.40 344.39 L401.40 344.40 L402.40 344.41 L403.40 344.42 L404.40 344.44 L405.40 344.45 L406.40 344.47 L407.40 344.49 L408.40 344.51 L409.40 344.53 L410.40 344.55 L411.40 344.57 L412.40 344.59 L413.40 344.61 L414.40 344.63 L415.40 344.65 L416.40 344.67 L417.40 344.68 L418.40 344.70 L419.40 344.71 L420.40 344.72 L421.40 344.73 L422.40 344.73 L423.40 344.73 L424.40 344.73 L425.40 344.73 L426.40 344.72 L427.40 344.71 L428.40 344.69 L429.40 344.67 L430.40 344.65 L431.40 344.62 L432.40 344.58 L433.40 344.54 L434.40 344.49 L435.40 344.44 L436.40 344.38 L437.40 344.32 L438.40 344.25 L439.40 344.17 L440.40 344.08 L441.40 343.99 L442.40 343.89 L443.40 343.78 L444.40 343.66 L445.40 343.54 L446.40 343.40 L447.40 343.26 L448.40 343.11 L449.40 342.95 L450.40 342.78 L451.40 342.60 L452.40 342.41 L453.40 342.20 L454.40 341.99 L455.40 341.77 L456.40 341.54 L457.40 341.29 L458.40 341.03 L459.40 340.76 L460.40 340.48 L461.40 340.19 L462.40 339.88 L463.40 339.56 L464.40 339.23 L465.40 338.89 L466.40 338.53 L467.40 338.15 L468.40 337.76 L469.40 337.35 L470.40 336.92 L471.40 336.47 L472.40 336.00 L473.40 335.51 L474.40 334.99 L475.40 334.44 L476.40 333.86 L477.40 333.26 L478.40 332.62 L479.40 331.95 L480.40 331.24 L481.40 330.50 L482.40 329.72 L483.40 328.89 L484.40 327.99 L485.40 327.04 L486.40 326.00 L487.40 324.89 L488.40 323.69 L489.40 322.40 L490.40 321.00 L491.40 319.49 L492.40 317.87 L493.40 316.12 L494.40 314.24 L495.40 312.23 L496.40 310.11 L497.40 307.90 L498.40 305.63 L499.40 303.30 L500.40 300.94 L501.40 298.56 L502.40 296.20 L503.40 293.85 L504.40 291.51 L505.40 289.17 L506.40 286.81 L507.40 284.41 L508.40 281.98 L509.40 279.53 L510.40 277.04 L511.40 274.54 L512.40 272.03 L513.40 269.51 L514.40 267.00 L515.40 264.49 L516.40 261.99 L517.40 259.52 L518.40 257.07 L519.40 254.66 L520.40 252.30 L521.40 250.02 L522.40 247.86 L523.40 245.82 L524.40 243.94 L525.40 242.23 L526.40 240.73 L527.40 239.46 L528.40 238.39 L529.40 237.53 L530.40 236.85 L531.40 236.33 L532.40 235.96 L533.40 235.71 L534.40 235.55 L535.40 235.46 L536.40 235.41" fill="none" stroke="#000" stroke-width="1.5"/>
<path d="M385.40 344.70 L386.40 344.68 L387.40 344.67 L388.40 344.66 L389.40 344.65 L390.40 344.64 L391.40 344.63 L392.40 344.63 L393.40 344.62 L394.40 344.62 L395.40 344.62 L396.40 344.62 L397.40 344.62 L398.40 344.62 L399.40 344.62 L400.40 344.62 L401.40 344.63 L402.40 344.63 L403.40 344.63 L404.40 344.64 L405.40 344.64 L406.40 344.65 L407.40 344.65 L408.40 344.66 L409.40 344.67 L410.40 344.67 L411.40 344.68 L412.40 344.68 L413.40 344.69 L414.40 344.69 L415.40 344.69 L416.40 344.70 L417.40 344.70 L418.40 344.70 L419.40 344.70 L420.40 344.70 L421.40 344.70 L422.40 344.70 L423.40 344.69 L424.40 344.69 L425.40 344.68 L426.40 344.68 L427.40 344.67 L428.40 344.66 L429.40 344.64 L430.40 344.63 L431.40 344.62 L432.40 344.60 L433.40 344.58 L434.40 344.56 L435.40 344.53 L436.40 344.51 L437.40 344.48 L438.40 344.45 L439.40 344.41 L440.40 344.38 L441.40 344.34 L442.40 344.30 L443.40 344.26 L444.40 344.21 L445.40 344.16 L446.40 344.11 L447.40 344.05 L448.40 343.99 L449.40 343.93 L450.40 343.86 L451.40 343.79 L452.40 343.72 L453.40 343.64 L454.40 343.56 L455.40 343.48 L456.40 343.39 L457.40 343.30 L458.40 343.20 L459.40 343.10 L460.40 343.00 L461.40 342.89 L462.40 342.78 L463.40 342.66 L464.40 342.54 L465.40 342.42 L466.40 342.29 L467.40 342.16 L468.40 342.02 L469.40 341.89 L470.40 341.75 L471.40 341.60 L472.40 341.46 L473.40 341.31 L474.40 341.16 L475.40 341.01 L476.40 340.86 L477.40 340.70 L478.40 340.54 L479.40 340.36 L480.40 340.18 L481.40 339.99 L482.40 339.79 L483.40 339.57 L484.40 339.34 L485.40 339.09 L486.40 338.81 L487.40 338.52 L488.40 338.20 L489.40 337.86 L490.40 337.49 L491.40 337.09 L492.40 336.67 L493.40 336.21 L494.40 335.73 L495.40 335.22 L496.40 334.68 L497.40 334.10 L498.40 333.50 L499.40 332.87 L500.40 332.20 L501.40 331.51 L502.40 330.78 L503.40 330.03 L504.40 329.24 L505.40 328.42 L506.40 327.57 L507.40 326.69 L508.40 325.79 L509.40 324.87 L510.40 323.93 L511.40 322.98 L512.40 322.01 L513.40 321.05 L514.40 320.07 L515.40 319.10 L516.40 318.14 L517.40 317.18 L518.40 316.23 L519.40 315.30 L520.40 314.38 L521.40 313.49 L522.40 312.62 L523.40 311.78 L524.40 310.98 L525.40 310.21 L526.40 309.47 L527.40 308.78 L528.40 308.14 L529.40 307.55 L530.40 307.01 L531.40 306.53 L532.40 306.10 L533.40 305.74 L534.40 305.45 L535.40 305.23 L536.40 305.09" fill="none" stroke="#000" stroke-width="1.5"/>
<circle cx="385.70" cy="343.07" r="2.25" fill="#fff" stroke="#000" stroke-width="1.6"/>
<circle cx="402.42" cy="343.07" r="2.25" fill="#fff" stroke="#000" stroke-width="1.6"/>
<circle cx="419.14" cy="342.97" r="2.25" fill="#fff" stroke="#000" stroke-width="1.6"/>
<circle cx="435.86" cy="342.78" r="2.25" fill="#fff" stroke="#000" stroke-width="1.6"/>
<circle cx="452.58" cy="341.82" r="2.25" fill="#fff" stroke="#000" stroke-width="1.6"/>
<circle cx="469.30" cy="340.67" r="2.25" fill="#fff" stroke="#000" stroke-width="1.6"/>
<circle cx="486.02" cy="327.47" r="2.25" fill="#fff" stroke="#000" stroke-width="1.6"/>
<path d="M502.74 304.64V312.05" stroke="#000" stroke-width="1.3" fill="none"/>
<path d="M499.99 304.64H505.49M499.99 312.05H505.49" stroke="#000" stroke-width="1.6" fill="none"/>
<circle cx="502.74" cy="308.34" r="2.25" fill="#fff" stroke="#000" stroke-width="1.6"/>
<path d="M519.46 236.06V244.81" stroke="#000" stroke-width="1.3" fill="none"/>
<path d="M516.71 236.06H522.21M516.71 244.81H522.21" stroke="#000" stroke-width="1.6" fill="none"/>
<circle cx="519.46" cy="240.43" r="2.25" fill="#fff" stroke="#000" stroke-width="1.6"/>
<path d="M536.18 236.92V245.86" stroke="#000" stroke-width="1.3" fill="none"/>
<path d="M533.43 236.92H538.93M533.43 245.86H538.93" stroke="#000" stroke-width="1.6" fill="none"/>
<circle cx="536.18" cy="241.39" r="2.25" fill="#fff" stroke="#000" stroke-width="1.6"/>
<circle cx="385.70" cy="343.16" r="2.75" fill="#000"/>
<circle cx="402.42" cy="343.16" r="2.75" fill="#000"/>
<circle cx="419.14" cy="342.78" r="2.75" fill="#000"/>
<circle cx="435.86" cy="342.59" r="2.75" fill="#000"/>
<circle cx="452.58" cy="342.01" r="2.75" fill="#000"/>
<circle cx="469.30" cy="342.78" r="2.75" fill="#000"/>
<circle cx="486.02" cy="339.91" r="2.75" fill="#000"/>
<circle cx="502.74" cy="335.89" r="2.75" fill="#000"/>
<path d="M519.46 307.80V313.10" stroke="#000" stroke-width="1.3" fill="none"/>
<path d="M516.71 307.80H522.21M516.71 313.10H522.21" stroke="#000" stroke-width="1.6" fill="none"/>
<circle cx="519.46" cy="310.45" r="2.75" fill="#000"/>
<path d="M536.18 302.54V310.33" stroke="#000" stroke-width="1.3" fill="none"/>
<path d="M533.43 302.54H538.93M533.43 310.33H538.93" stroke="#000" stroke-width="1.6" fill="none"/>
<circle cx="536.18" cy="306.43" r="2.75" fill="#000"/>
</svg>
</body></html>
